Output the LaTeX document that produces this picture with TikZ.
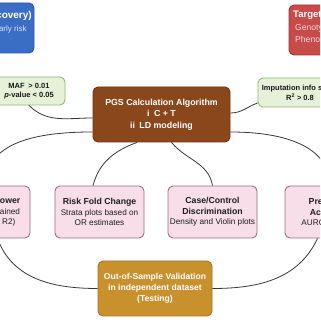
\documentclass[tikz,border=0pt]{standalone}
\usepackage{fontspec}
\setmainfont{Liberation Sans}
\definecolor{blueF}{HTML}{3A6DC4}
\definecolor{blueD}{HTML}{2A55A5}
\definecolor{blueT}{HTML}{DCE6F7}
\definecolor{redF}{HTML}{C84B4B}
\definecolor{redD}{HTML}{A33333}
\definecolor{redT}{HTML}{F6D6D6}
\definecolor{greenF}{HTML}{E7F0D8}
\definecolor{greenD}{HTML}{8FBC6E}
\definecolor{brownF}{HTML}{8A471C}
\definecolor{brownD}{HTML}{6E3713}
\definecolor{pinkF}{HTML}{F7DEE8}
\definecolor{pinkD}{HTML}{9C6E82}
\definecolor{goldF}{HTML}{C9912E}
\definecolor{goldD}{HTML}{A8771F}
\definecolor{lineC}{HTML}{383838}
\begin{document}
\begin{tikzpicture}[x=1pt,y=1pt,
  box/.style={rectangle, rounded corners=5pt, line width=0.9pt, align=center, inner sep=0pt},
  topbox/.style={box, minimum width=110pt, minimum height=50pt},
  greenbox/.style={box, fill=greenF, draw=greenD, text=black!90, font=\fontsize{7.5}{8.5}\selectfont\bfseries},
  pinkbox/.style={box, fill=pinkF, draw=pinkD, minimum width=89pt, minimum height=52pt, text=black!88, font=\fontsize{8.2}{10.5}\selectfont},
  conn/.style={draw=lineC, line width=0.8pt}]
\useasboundingbox (0,0) rectangle (320,320);
\fill[white] (0,0) rectangle (320,320);
\clip (0,0) rectangle (320,320);

% top boxes
\node[topbox, fill=blueF, draw=blueD] (base) at (-21,292) {};
\node[align=center, inner sep=0pt, text=white] (basetxt) at (-21,297.5)
  {{\fontsize{10}{11}\selectfont\bfseries Base Data (Discovery)}\\[1pt]
   {\fontsize{8}{10}\selectfont\color{blueT}Summary data of early risk}};
\node[topbox, fill=redF, draw=redD] (target) at (344,290) {};
\node[align=left, inner sep=0pt, anchor=west, text=white] (targettxt) at (293,292)
  {{\fontsize{9.5}{11}\selectfont\bfseries Target Data}\\[1pt]
   {\fontsize{8.6}{9.5}\selectfont\color{redT}\hspace{2pt}Genotype data}\\
   {\fontsize{8.6}{9.5}\selectfont\color{redT}\hspace{2pt}Phenotype data}};

% green boxes
\node[greenbox, minimum width=72pt, minimum height=28pt] (maf) at (29,229)
  {MAF\enspace> 0.01\\\textit{p}-value < 0.05};
\node[greenbox, minimum width=84pt, minimum height=29pt, font=\fontsize{7.5}{10}\selectfont\bfseries] (imp) at (300,227.5)
  {Imputation info score\\R\textsuperscript{2} > 0.8};

% central
\node[box, fill=brownF, draw=brownD, text=white, minimum width=137pt, minimum height=55pt,
  font=\fontsize{8.8}{11.5}\selectfont\bfseries] (pgs) at (161.5,205.5)
  {PGS Calculation Algorithm\\i\enspace C + T\\ii\enspace LD modeling};

% pink boxes
\node[pinkbox] (power) at (-14.5,108)
  {{\fontsize{8.7}{10.5}\selectfont\bfseries Statistical Power}\\Variance explained\\(Nagelkerke R2)};
\node[pinkbox] (rfc) at (99.5,108)
  {{\fontsize{8.7}{10.5}\selectfont\bfseries Risk Fold Change}\\Strata plots based on\\OR estimates};
\node[pinkbox] (cc) at (212.5,108)
  {{\fontsize{8.7}{10.5}\selectfont\bfseries Case/Control}\\{\fontsize{8.7}{10.5}\selectfont\bfseries Discrimination}\\Density and Violin plots};
\node[pinkbox] (pre) at (329.5,108)
  {{\fontsize{8.7}{10.5}\selectfont\bfseries Predictive}\\{\fontsize{8.7}{10.5}\selectfont\bfseries Accuracy}\\AUROC curves};

% out of sample
\node[box, fill=goldF, draw=goldD, text=white, minimum width=114pt, minimum height=55pt,
  font=\fontsize{8.6}{11}\selectfont\bfseries] (oos) at (155,31.5)
  {Out-of-Sample Validation\\in independent dataset\\(Testing)};

% connectors
\draw[conn] (maf.south) to[out=-45,in=180] ([yshift=-3.5pt]pgs.west);
\draw[conn] ([yshift=1.5pt]pgs.east) to[out=0,in=200] ([yshift=-10.5pt]imp.west);
\draw[conn] ([yshift=-17.5pt]pgs.west) to[out=180,in=90] (power.north);
\draw[conn] ([yshift=-17.5pt]pgs.east) to[out=0,in=90] (pre.north);
\draw[conn] ([xshift=-24.5pt]pgs.south) to[out=200,in=75] ([xshift=-6.5pt]rfc.north);
\draw[conn] ([xshift=10pt]pgs.south) to[out=-50,in=100] (cc.north);
\draw[conn] ([xshift=12pt]power.south) to[out=-70,in=180] (oos.west);
\draw[conn] (oos.east) to[out=0,in=-115] ([xshift=-12pt]pre.south);
\end{tikzpicture}
\end{document}
